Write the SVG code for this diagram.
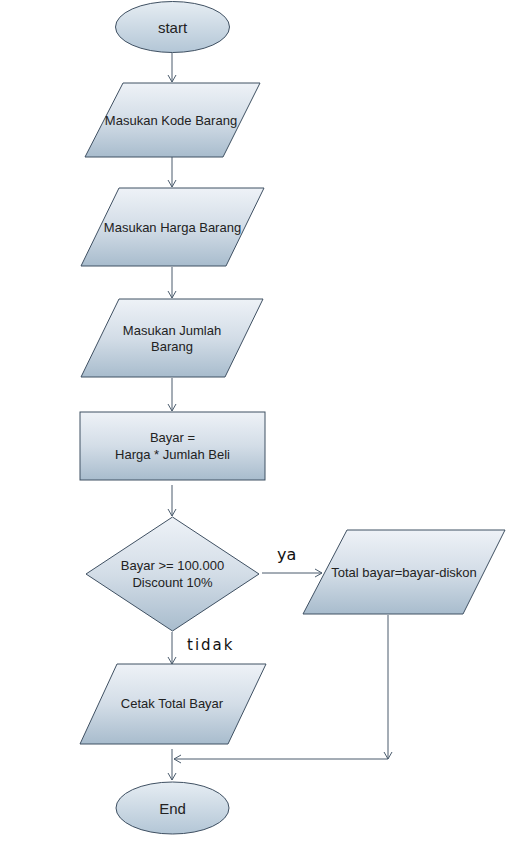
<svg xmlns="http://www.w3.org/2000/svg" width="519" height="841" viewBox="0 0 519 841">
<defs>
<linearGradient id="g" x1="0" y1="0" x2="0" y2="1">
<stop offset="0" stop-color="#eef2f7"/>
<stop offset="0.5" stop-color="#d3dde7"/>
<stop offset="1" stop-color="#a8bccd"/>
</linearGradient>
<linearGradient id="ge" x1="0" y1="0" x2="0" y2="1">
<stop offset="0" stop-color="#e6edf3"/>
<stop offset="1" stop-color="#b3c6d6"/>
</linearGradient>
<marker id="arr" markerUnits="userSpaceOnUse" markerWidth="12" markerHeight="12" viewBox="0 0 12 12" refX="10" refY="6" orient="auto">
<path d="M3,2 L10,6 L3,10" fill="none" stroke="#4a5b6c" stroke-width="1"/>
</marker>
<style>
.s{fill:url(#g);stroke:#3f5062;stroke-width:1}
.e{fill:url(#ge);stroke:#3f5062;stroke-width:1}
.t{font-family:"Liberation Sans",Arial,sans-serif;font-size:13px;fill:#222;text-anchor:middle;dominant-baseline:central}
.te{font-family:"Liberation Sans",Arial,sans-serif;font-size:15px;fill:#222;text-anchor:middle;dominant-baseline:central}
.c{stroke:#4a5b6c;stroke-width:1;fill:none;marker-end:url(#arr)}
.l{font-family:"DejaVu Sans",sans-serif;font-size:16px;fill:#111;dominant-baseline:central}
</style>
</defs>
<rect width="519" height="841" fill="#ffffff"/>
<g id="connectors">
<line class="c" x1="172" y1="53" x2="172" y2="82"/>
<line class="c" x1="172" y1="157" x2="172" y2="187"/>
<line class="c" x1="172" y1="267" x2="172" y2="298"/>
<line class="c" x1="172" y1="378" x2="172" y2="411"/>
<line class="c" x1="172" y1="485" x2="172" y2="516"/>
<line class="c" x1="262" y1="573" x2="322" y2="573"/>
<line class="c" x1="172" y1="632" x2="172" y2="664"/>
<line class="c" x1="172" y1="749" x2="172" y2="780"/>
<line class="c" x1="388" y1="615" x2="388" y2="759"/>
<line class="c" x1="388" y1="759" x2="174" y2="759"/>
<text class="l" x="277" y="554">ya</text>
<text class="l" x="187" y="645" style="font-size:15px;letter-spacing:2px">tidak</text>
</g>
<g id="start">
<ellipse class="e" cx="172.5" cy="27" rx="57" ry="25.5"/>
<text class="te" x="172.5" y="27">start</text>
</g>
<g id="kode">
<polygon class="s" points="123,83 260,83 223,157 85,157"/>
<text class="t" x="171" y="120">Masukan Kode Barang</text>
</g>
<g id="harga">
<polygon class="s" points="119,188 264,188 226,266 81,266"/>
<text class="t" x="172.5" y="227">Masukan Harga Barang</text>
</g>
<g id="jumlah">
<polygon class="s" points="119,299 263,299 225,377 81,377"/>
<text class="t" x="172" y="330">Masukan Jumlah</text>
<text class="t" x="172" y="346">Barang</text>
</g>
<g id="bayar">
<rect class="s" x="80" y="412" width="185" height="68"/>
<text class="t" x="172.5" y="437">Bayar =</text>
<text class="t" x="172.5" y="454">Harga * Jumlah Beli</text>
</g>
<g id="decision">
<polygon class="s" points="172.5,517 259,574 172.5,631 86,574"/>
<text class="t" x="172.5" y="565">Bayar &gt;= 100.000</text>
<text class="t" x="172.5" y="582">Discount 10%</text>
</g>
<g id="total">
<polygon class="s" points="347,530 505,530 463,614 303,614"/>
<text class="t" x="404" y="572">Total bayar=bayar-diskon</text>
</g>
<g id="cetak">
<polygon class="s" points="117,664 266,664 228,744 80,744"/>
<text class="t" x="172" y="703">Cetak Total Bayar</text>
</g>
<g id="end">
<ellipse class="e" cx="172.5" cy="808" rx="56.5" ry="26"/>
<text class="te" x="172.5" y="808">End</text>
</g>
</svg>
